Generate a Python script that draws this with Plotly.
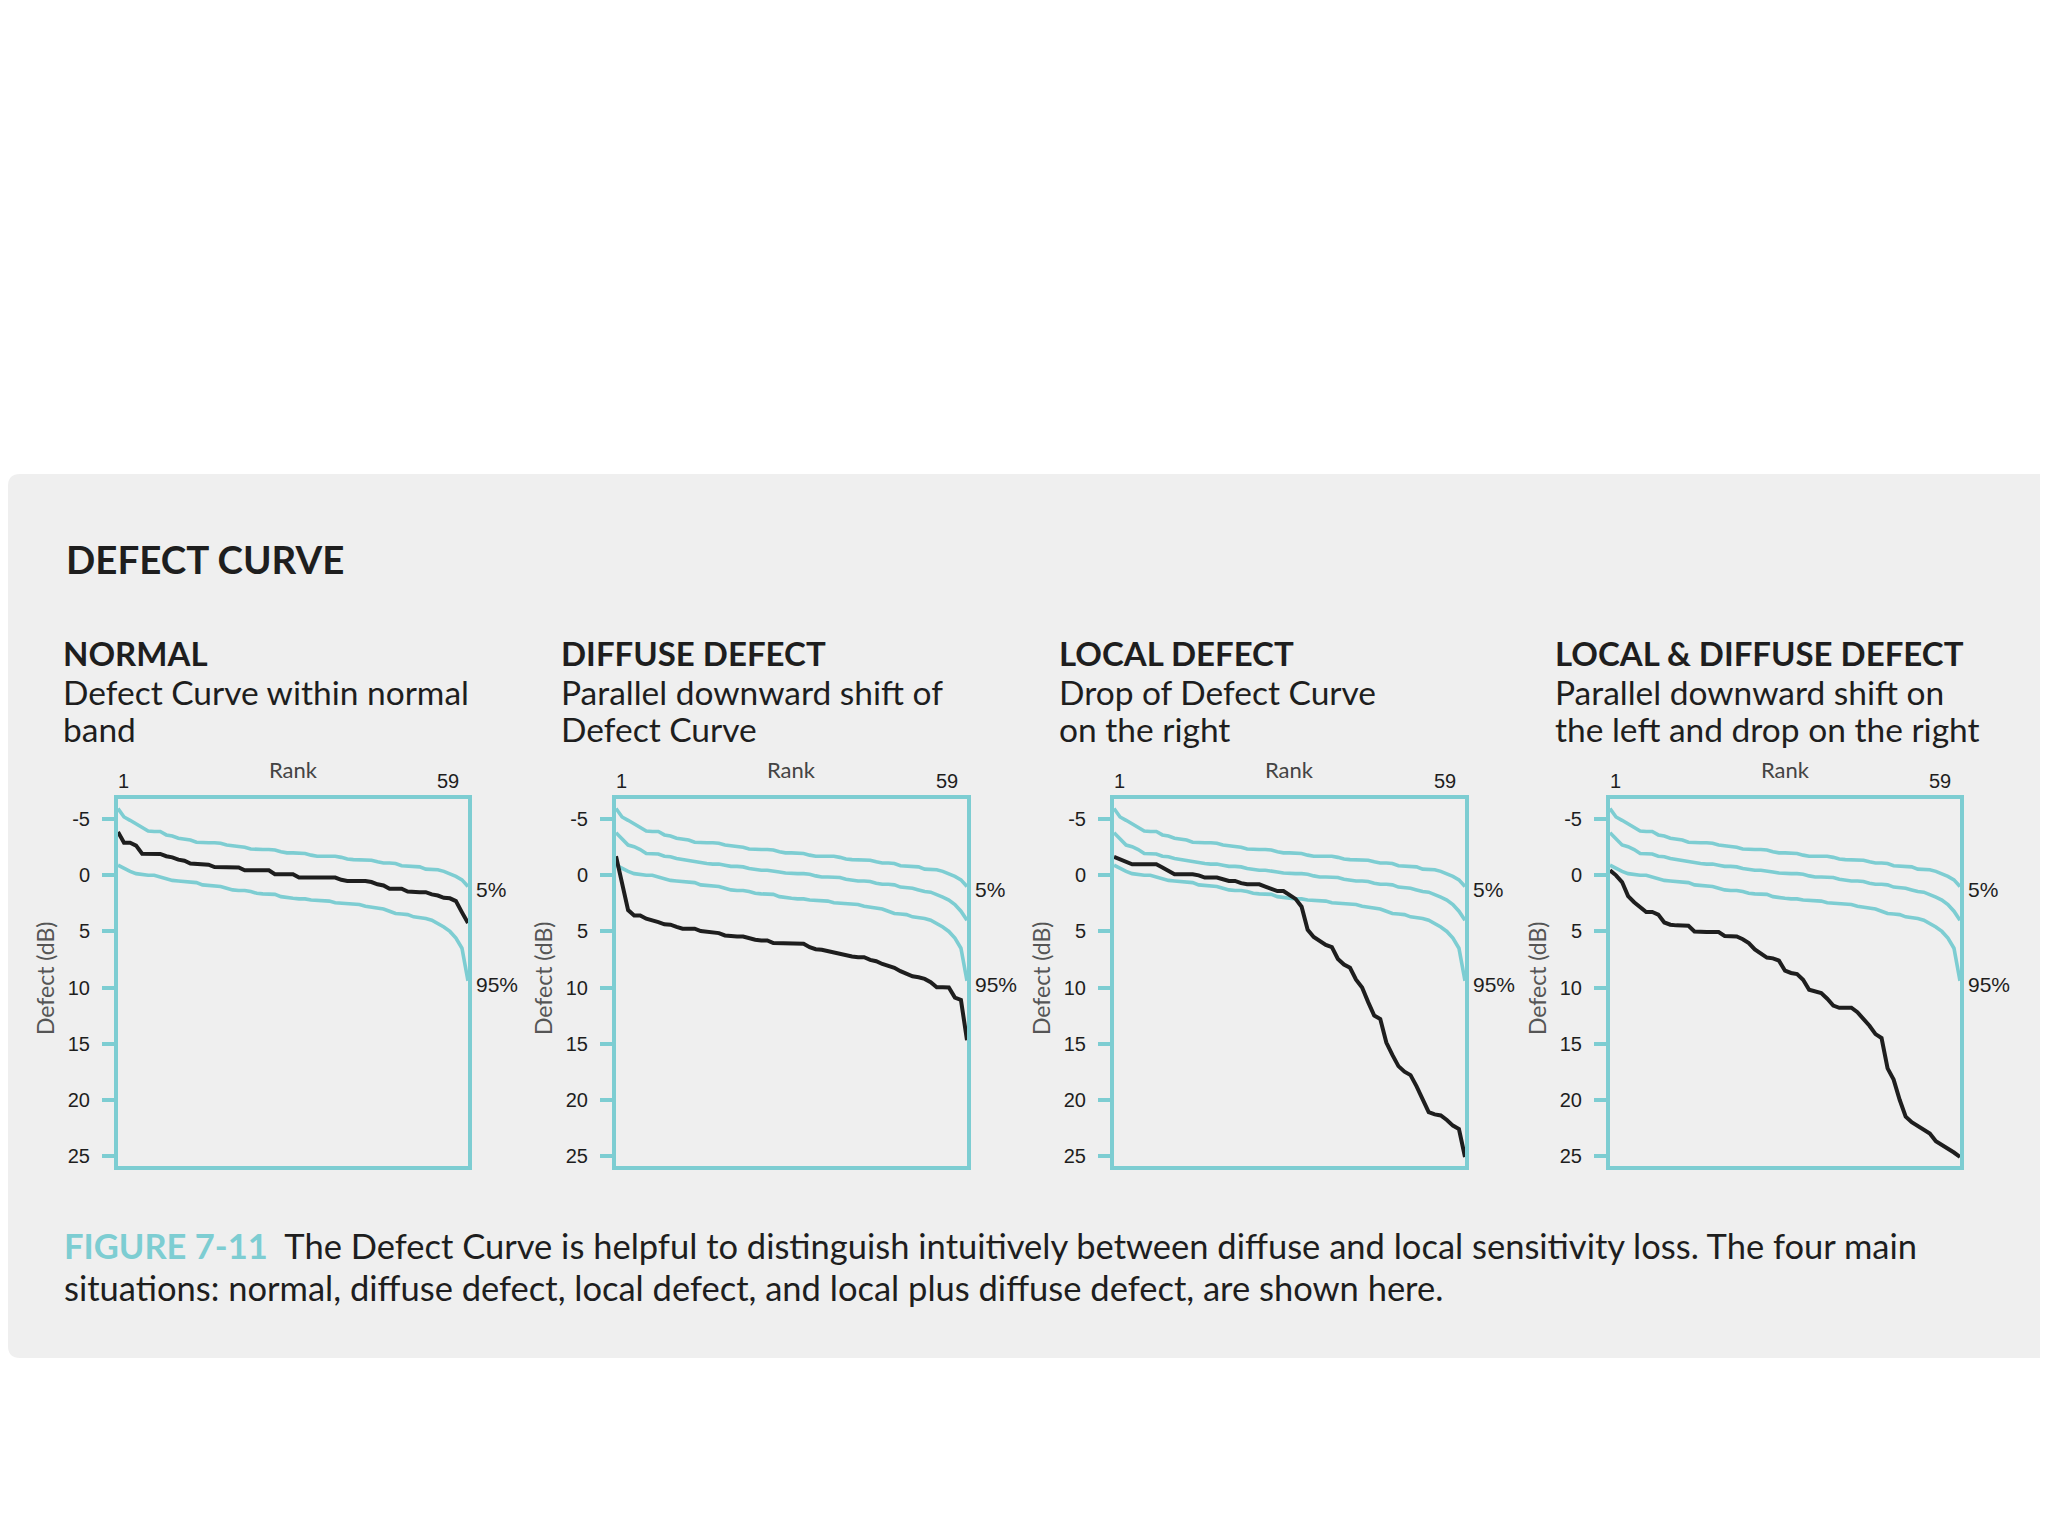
import plotly.graph_objects as go

# ---------------- data ----------------
rank = list(range(1, 60))

norm_5 = [-5.95, -5.2, -4.9, -4.6, -4.3, -3.95, -3.9, -3.9, -3.6, -3.5,
          -3.3, -3.2, -3.15, -2.95, -2.9, -2.9, -2.9, -2.85, -2.7, -2.65,
          -2.6, -2.5, -2.35, -2.3, -2.3, -2.3, -2.25, -2.1, -2.0, -2.0,
          -2.0, -1.95, -1.8, -1.7, -1.7, -1.7, -1.7, -1.6, -1.45, -1.4,
          -1.4, -1.4, -1.35, -1.2, -1.1, -1.1, -1.05, -0.85, -0.8, -0.8,
          -0.75, -0.55, -0.5, -0.5, -0.35, -0.15, 0.1, 0.4, 1.0]

norm_50 = [-3.8, -3.2, -2.7, -2.55, -2.3, -1.95, -1.9, -1.9, -1.7, -1.65,
           -1.5, -1.4, -1.35, -1.25, -1.1, -1.05, -1.0, -1.0, -0.9, -0.8,
           -0.8, -0.75, -0.6, -0.5, -0.45, -0.45, -0.4, -0.3, -0.2, -0.15,
           -0.15, -0.15, -0.1, 0.05, 0.15, 0.15, 0.15, 0.2, 0.35, 0.45,
           0.5, 0.5, 0.55, 0.7, 0.8, 0.8, 0.85, 1.05, 1.1, 1.15,
           1.3, 1.45, 1.5, 1.7, 1.95, 2.2, 2.6, 3.2, 4.0]

norm_95 = [-0.9, -0.6, -0.35, -0.15, -0.05, 0.0, 0.0, 0.15, 0.3, 0.45,
           0.5, 0.55, 0.6, 0.65, 0.85, 0.9, 0.95, 1.0, 1.15, 1.3,
           1.35, 1.35, 1.45, 1.6, 1.65, 1.65, 1.7, 1.9, 2.0, 2.05,
           2.1, 2.1, 2.2, 2.25, 2.25, 2.3, 2.45, 2.5, 2.55, 2.6,
           2.6, 2.75, 2.85, 2.9, 3.0, 3.2, 3.4, 3.45, 3.5, 3.7,
           3.75, 3.85, 4.0, 4.3, 4.6, 5.0, 5.6, 6.5, 9.4]

defect_normal = [-3.87, -2.9, -2.9, -2.65, -1.93, -1.93, -1.93, -1.9, -1.7, -1.6,
                 -1.4, -1.3, -1.05, -1.0, -1.0, -0.95, -0.74, -0.74, -0.74, -0.74,
                 -0.7, -0.45, -0.45, -0.45, -0.45, -0.45, -0.1, -0.1, -0.1, -0.1,
                 0.2, 0.2, 0.2, 0.2, 0.2, 0.2, 0.2, 0.4, 0.5, 0.5,
                 0.5, 0.5, 0.6, 0.8, 0.9, 1.2, 1.2, 1.2, 1.45, 1.5,
                 1.5, 1.5, 1.7, 1.8, 2.0, 2.05, 2.3, 3.3, 4.25]

defect_diffuse = [-1.7, 0.8, 3.1, 3.57, 3.57, 3.87, 4.0, 4.17, 4.37, 4.4,
                  4.6, 4.76, 4.76, 4.76, 4.97, 5.06, 5.1, 5.15, 5.36, 5.45,
                  5.45, 5.45, 5.6, 5.74, 5.8, 5.8, 6.04, 6.04, 6.04, 6.04,
                  6.04, 6.1, 6.4, 6.58, 6.64, 6.76, 6.93, 7.0, 7.11, 7.23,
                  7.3, 7.3, 7.53, 7.65, 7.9, 8.1, 8.24, 8.54, 8.78, 9.0,
                  9.08, 9.23, 9.52, 9.97, 9.97, 10.0, 10.9, 11.1, 14.7]

defect_local = [-1.64, -1.45, -1.2, -0.98, -0.98, -0.98, -0.98, -0.98, -0.7, -0.4,
                -0.1, -0.1, -0.1, -0.1, 0.0, 0.2, 0.2, 0.2, 0.35, 0.5,
                0.5, 0.7, 0.8, 0.8, 0.8, 1.0, 1.2, 1.4, 1.4, 1.75,
                2.1, 2.8, 4.85, 5.5, 5.9, 6.2, 6.4, 7.45, 7.95, 8.24,
                9.3, 10.0, 11.3, 12.5, 12.8, 14.9, 16.0, 17.0, 17.5, 17.8,
                18.8, 20.0, 21.1, 21.3, 21.4, 21.8, 22.3, 22.6, 25.1]

defect_local_diffuse = [-0.45, 0.0, 0.6, 1.85, 2.4, 2.8, 3.27, 3.27, 3.5, 4.2,
                        4.4, 4.46, 4.46, 4.5, 5.0, 5.06, 5.06, 5.06, 5.06, 5.4,
                        5.45, 5.45, 5.7, 6.04, 6.6, 7.0, 7.33, 7.4, 7.6, 8.5,
                        8.7, 8.8, 9.3, 10.2, 10.33, 10.5, 11.0, 11.6, 11.8, 11.8,
                        11.8, 12.2, 12.8, 13.4, 14.15, 14.5, 17.2, 18.2, 20.0, 21.5,
                        22.0, 22.35, 22.6, 23.0, 23.7, 24.0, 24.3, 24.7, 25.1]

panel_titles = ["NORMAL", "DIFFUSE DEFECT", "LOCAL DEFECT", "LOCAL & DIFFUSE DEFECT"]
panel_desc = [["Defect Curve within normal", "band"],
              ["Parallel downward shift of", "Defect Curve"],
              ["Drop of Defect Curve", "on the right"],
              ["Parallel downward shift on", "the left and drop on the right"]]
panel_defects = [defect_normal, defect_diffuse, defect_local, defect_local_diffuse]
panel_norms = [[norm_5, norm_95], [norm_5, norm_50, norm_95],
               [norm_5, norm_50, norm_95], [norm_5, norm_50, norm_95]]

y_tickvals = [-5, 0, 5, 10, 15, 20, 25]
y_ticktext = ["-5", "0", "5", "10", "15", "20", "25"]
rank_labels = ["1", "59"]
pct_labels = [("5%", 1.3), ("95%", 9.7)]

main_title = "DEFECT CURVE"
caption_tag = "FIGURE 7-11"
caption_line1 = "The Defect Curve is helpful to distinguish intuitively between diffuse and local sensitivity loss. The four main"
caption_line2 = "situations: normal, diffuse defect, local defect, and local plus diffuse defect, are shown here."

# ---------------- styling / layout ----------------
OFF = 8  # page body margin compensation
W, H = 2048 - 2 * OFF, 1536 - 2 * OFF
TEAL = "#7dcdd2"
INK = "#1e1e1e"
BG = "#efefef"
HEAD_FONT = "Lato"
NUM_FONT = "Liberation Sans"

box_px = [(118, 468), (616, 967), (1114, 1465), (1610, 1960)]
box_top, box_bot = 799, 1166


def px(x):
    return (x - OFF) / W


def py(y):
    return 1 - (y - OFF) / H


fig = go.Figure()
annotations = []
layout_axes = {}

for i in range(4):
    n = i + 1
    xa = "x" if n == 1 else f"x{n}"
    ya = "y" if n == 1 else f"y{n}"
    for curve in panel_norms[i]:
        fig.add_trace(go.Scatter(x=rank, y=curve, mode="lines", xaxis=xa, yaxis=ya,
                                 line=dict(color=TEAL, width=3.6), hoverinfo="skip",
                                 showlegend=False))
    fig.add_trace(go.Scatter(x=rank, y=panel_defects[i], mode="lines", xaxis=xa, yaxis=ya,
                             line=dict(color=INK, width=4), showlegend=False))

    x0, x1 = box_px[i]
    layout_axes[f"xaxis{'' if n == 1 else n}"] = dict(
        domain=[px(x0), px(x1)], range=[1, 59], showgrid=False, zeroline=False,
        showticklabels=False, ticks="", showline=True, mirror=True,
        linecolor=TEAL, linewidth=4, anchor=ya, fixedrange=True)
    layout_axes[f"yaxis{'' if n == 1 else n}"] = dict(
        domain=[py(box_bot), py(box_top)], range=[25.9, -6.8], showgrid=False,
        zeroline=False, tickvals=y_tickvals, ticktext=y_ticktext, ticks="outside",
        ticklen=12, tickwidth=4, tickcolor=TEAL, showline=True, mirror=True,
        linecolor=TEAL, linewidth=4, anchor=xa, ticklabelstandoff=8,
        tickfont=dict(family=NUM_FONT, size=20, color=INK), fixedrange=True)

    hx = x0 - 57
    annotations.append(dict(text=f"<b>{panel_titles[i]}</b>", x=px(hx), y=py(653),
                            xref="paper", yref="paper", xanchor="left", yanchor="middle",
                            showarrow=False, font=dict(family=HEAD_FONT, size=33, color=INK)))
    for j, line in enumerate(panel_desc[i]):
        annotations.append(dict(text=line, x=px(hx), y=py(692 + 37 * j),
                                xref="paper", yref="paper", xanchor="left", yanchor="middle",
                                showarrow=False, font=dict(family=HEAD_FONT, size=33.5, color=INK)))
    annotations.append(dict(text="Rank", x=px((x0 + x1) / 2), y=py(769), xref="paper",
                            yref="paper", xanchor="center", yanchor="middle", showarrow=False,
                            font=dict(family=HEAD_FONT, size=22, color="#444")))
    annotations.append(dict(text=rank_labels[0], x=px(x0 + 5), y=py(781), xref="paper",
                            yref="paper", xanchor="center", yanchor="middle", showarrow=False,
                            font=dict(family=NUM_FONT, size=20, color=INK)))
    annotations.append(dict(text=rank_labels[1], x=px(x1 - 20), y=py(781), xref="paper",
                            yref="paper", xanchor="center", yanchor="middle", showarrow=False,
                            font=dict(family=NUM_FONT, size=20, color=INK)))
    annotations.append(dict(text="Defect (dB)", x=px(x0 - 73), y=py(978), xref="paper",
                            yref="paper", xanchor="center", yanchor="middle", textangle=-90,
                            showarrow=False, font=dict(family=HEAD_FONT, size=23, color="#555")))
    for lab, yv in pct_labels:
        annotations.append(dict(text=lab, x=1, xshift=6, y=yv, xref=f"{xa} domain", yref=ya,
                                xanchor="left", yanchor="middle", showarrow=False,
                                font=dict(family=NUM_FONT, size=21, color=INK)))

annotations.append(dict(text=f"<b>{main_title}</b>", x=px(64), y=py(559), xref="paper",
                        yref="paper", xanchor="left", yanchor="middle", showarrow=False,
                        font=dict(family=HEAD_FONT, size=38.5, color=INK)))
annotations.append(dict(text=f"<b><span style='color:{TEAL}'>{caption_tag}</span></b>  {caption_line1}",
                        x=px(62), y=py(1245), xref="paper", yref="paper", xanchor="left",
                        yanchor="middle", showarrow=False,
                        font=dict(family=HEAD_FONT, size=34.5, color=INK)))
annotations.append(dict(text=caption_line2, x=px(62), y=py(1287), xref="paper", yref="paper",
                        xanchor="left", yanchor="middle", showarrow=False,
                        font=dict(family=HEAD_FONT, size=34.5, color=INK)))

r = 12
X0, X1, Y0, Y1 = 8, 2080, 474, 1358
path = (f"M {px(X0 + r)},{py(Y0)} L {px(X1 - r)},{py(Y0)} "
        f"Q {px(X1)},{py(Y0)} {px(X1)},{py(Y0 + r)} L {px(X1)},{py(Y1 - r)} "
        f"Q {px(X1)},{py(Y1)} {px(X1 - r)},{py(Y1)} L {px(X0 + r)},{py(Y1)} "
        f"Q {px(X0)},{py(Y1)} {px(X0)},{py(Y1 - r)} L {px(X0)},{py(Y0 + r)} "
        f"Q {px(X0)},{py(Y0)} {px(X0 + r)},{py(Y0)} Z")

fig.update_layout(
    width=W, height=H, margin=dict(l=0, r=0, t=0, b=0),
    paper_bgcolor="white", plot_bgcolor="white", showlegend=False,
    annotations=annotations,
    shapes=[dict(type="path", path=path, xref="paper", yref="paper",
                 fillcolor=BG, line=dict(width=0), layer="below")],
    **layout_axes,
)

fig.write_html("out.html", config={"displayModeBar": False})
